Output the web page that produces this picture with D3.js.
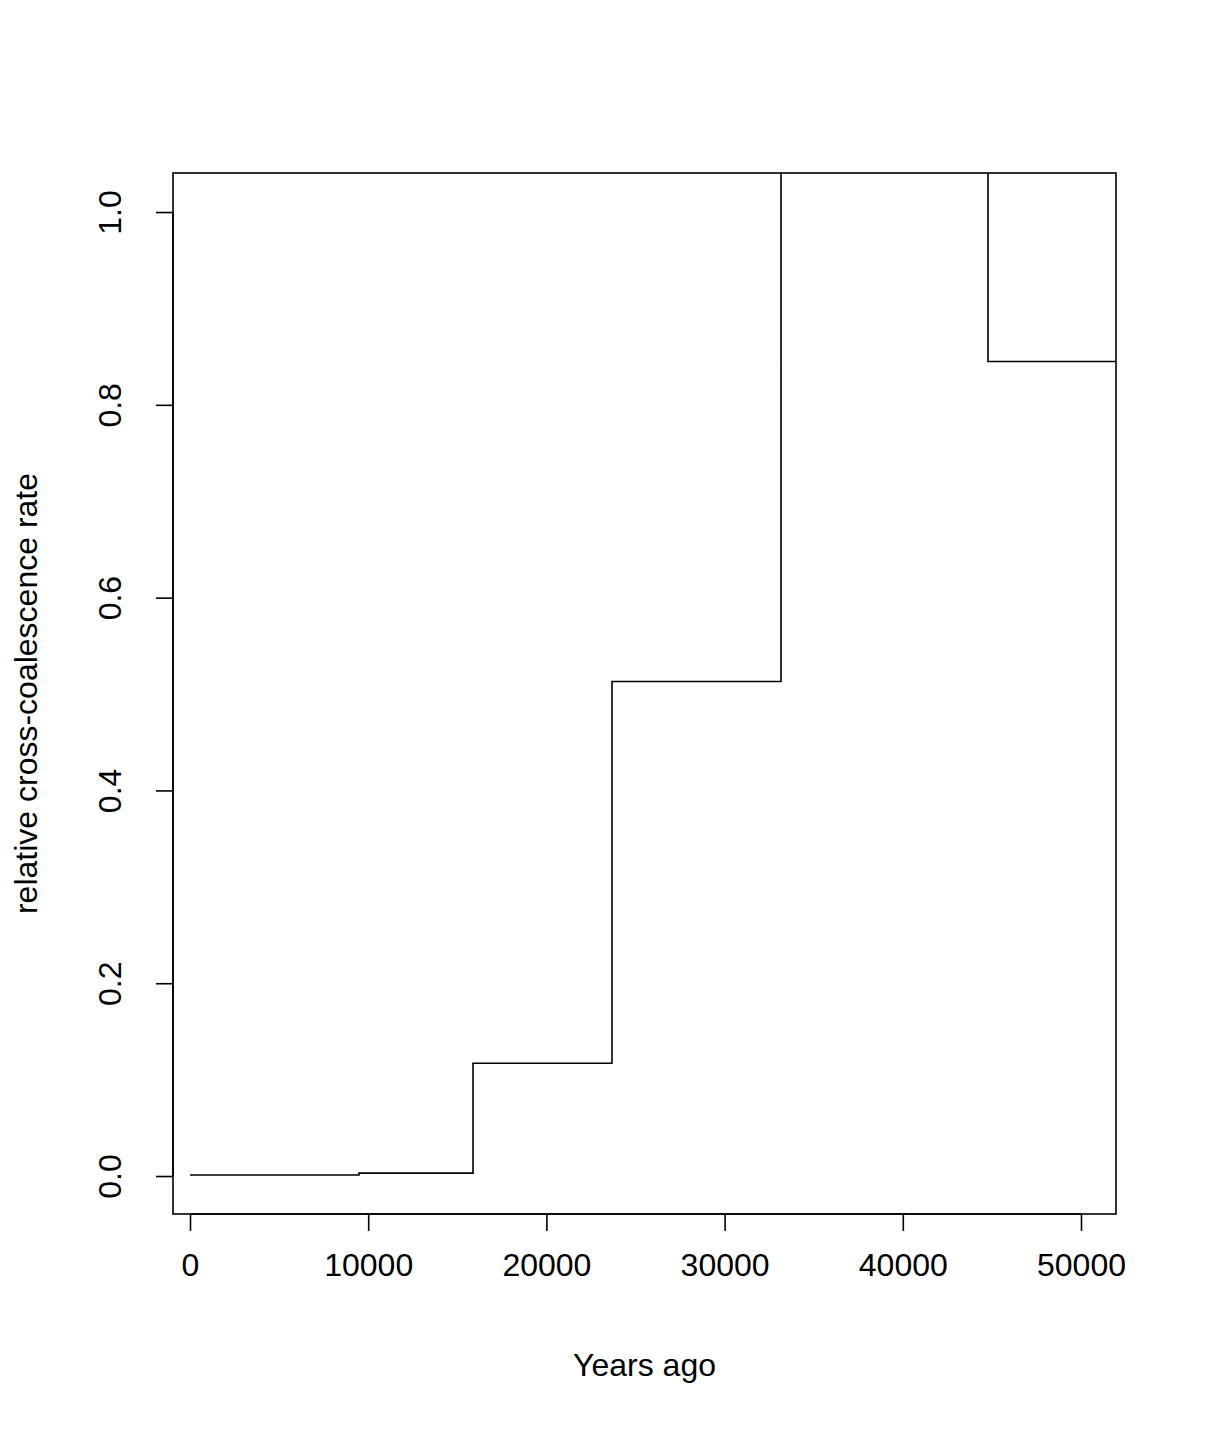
<!DOCTYPE html>
<html><head><meta charset="utf-8">
<script src="https://cdn.jsdelivr.net/npm/d3@7/dist/d3.min.js"></script>
<style>body{margin:0;background:#fff}text{font-family:"Liberation Sans",Arial,sans-serif;fill:#000}</style>
</head><body><svg id="c" width="1205" height="1430"></svg>
<script>
const stepStarts = [0, 9484, 15881, 23681, 33165, 44781, 60000];
const stepValues = [0.001, 0.003, 0.117, 0.513, 1.3, 0.845, 0.845];
const xTicks = [0, 10000, 20000, 30000, 40000, 50000];
const yTicks = [0.0, 0.2, 0.4, 0.6, 0.8, 1.0];

const svg = d3.select("#c");
const L=173,R=1116,T=173,B=1214;
const x = d3.scaleLinear().domain([-954, 51964]).range([L,R]);
const y = d3.scaleLinear().domain([-0.0394, 1.0405]).range([B,T]);

svg.append("clipPath").attr("id","clip").append("rect").attr("x",L).attr("y",T).attr("width",R-L).attr("height",B-T);
const data = stepStarts.map((s,i)=>({x:s,y:stepValues[i]}));
svg.append("path").datum(data).attr("clip-path","url(#clip)")
  .attr("d", d3.line().x(d=>x(d.x)).y(d=>y(d.y)).curve(d3.curveStepAfter))
  .attr("fill","none").attr("stroke","#000").attr("stroke-width",1.6);
svg.append("rect").attr("x",L).attr("y",T).attr("width",R-L).attr("height",B-T).attr("fill","none").attr("stroke","#000").attr("stroke-width",1.6);

const xa = svg.append("g").attr("transform",`translate(0,${B})`)
  .call(d3.axisBottom(x).tickValues(xTicks).tickFormat(d3.format("d")).tickSize(17).tickPadding(34).tickSizeOuter(0));
xa.select(".domain").attr("d",`M${x(0)},0H${x(50000)}`).attr("stroke-width",1.6);
xa.selectAll(".tick line").attr("stroke-width",1.6);
xa.selectAll("text").attr("font-size",32).attr("font-family","Liberation Sans, Arial, sans-serif").attr("dy","0.35em");

const ya = svg.append("g").attr("transform",`translate(${L},0)`)
  .call(d3.axisLeft(y).tickValues(yTicks).tickFormat(d3.format(".1f")).tickSize(17).tickSizeOuter(0));
ya.select(".domain").attr("d",`M0,${y(0)}V${y(1)}`).attr("stroke-width",1.6);
ya.selectAll(".tick line").attr("stroke-width",1.6);
ya.selectAll(".tick text").attr("font-size",32).attr("font-family","Liberation Sans, Arial, sans-serif")
  .attr("x",null).attr("dy",null).attr("text-anchor","middle")
  .attr("transform","translate(-52,0) rotate(-90)");

svg.append("text").attr("x",(L+R)/2).attr("y",1376).attr("text-anchor","middle").attr("font-size",32).text("Years ago");
svg.append("text").attr("transform",`translate(37,${(T+B)/2}) rotate(-90)`).attr("text-anchor","middle").attr("font-size",32).text("relative cross-coalescence rate");
</script></body></html>
